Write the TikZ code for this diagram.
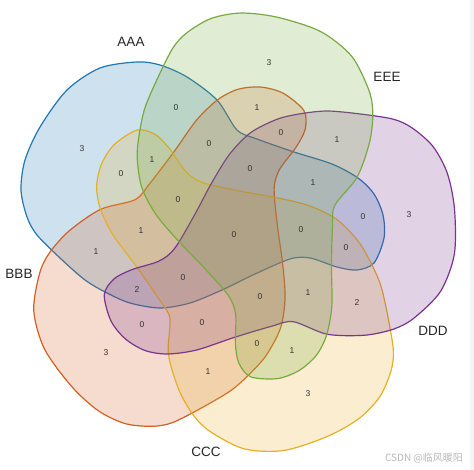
\documentclass[tikz,border=0pt]{standalone}
\usepackage{fontspec}
\setmainfont{Liberation Sans}
\newfontfamily\cjk{Noto Sans CJK SC}

\definecolor{setA}{RGB}{31,119,180}
\definecolor{setB}{RGB}{210,95,35}
\definecolor{setC}{RGB}{230,175,40}
\definecolor{setD}{RGB}{122,52,142}
\definecolor{setE}{RGB}{120,170,62}

\newcommand{\petal}{plot[smooth cycle] coordinates {(137,62) (100,68) (67,90) (40,127) (25,160) (21,190) (27,217) (37,235) (60,258) (85,280) (107,293) (130,303) (160,308) (190,303) (222,290) (255,274) (290,259) (310,258) (337,267) (357,270) (374,263) (384,238) (383,215) (374,194) (358,178) (332,164) (294,152) (257,139) (237,130) (217,100) (187,77) (160,65)}}

\begin{document}
\begin{tikzpicture}[x=1pt,y=-1pt,
vset/.style={line width=1.2pt,fill opacity=0.22},
setname/.style={font=\fontsize{13.5}{16}\selectfont,text=black!85},
regnum/.style={font=\fontsize{8.5}{10}\selectfont,text=black!80}]

\useasboundingbox (0,0) rectangle (474,470);
\coordinate (c) at (234,235);

\draw[vset,draw=setA,fill=setA] \petal;
\draw[vset,draw=setB,fill=setB,rotate around={72:(c)}] \petal;
\draw[vset,draw=setC,fill=setC,rotate around={144:(c)}] \petal;
\draw[vset,draw=setD,fill=setD,rotate around={-144:(c)}] \petal;
\draw[vset,draw=setE,fill=setE,rotate around={-72:(c)}] \petal;

\node[setname] (aaa) at (131,42) {AAA};
\node[setname] (eee) at (387,77) {EEE};
\node[setname] (ddd) at (433,331) {DDD};
\node[setname] (ccc) at (206,452) {CCC};
\node[setname] (bbb) at (19,274) {BBB};

\foreach \x/\y/\v [count=\i] in {82/149/3, 176/108/0, 209/144/0, 152/160/1, 121/174/0, 178/200/0, 141/231/1,
  269/63/3, 257/108/1, 281/133/0, 337/140/1, 250/169/0, 313/183/1, 363/217/0, 409/215/3, 301/230/0,
  96/252/1, 183/278/0, 137/290/2, 142/325/0, 202/323/0, 106/353/3, 208/372/1,
  346/248/0, 260/297/0, 308/293/1, 357/303/2, 257/344/0, 292/351/1, 308/394/3, 234/235/0}
  \node[regnum] (n\i) at (\x,\y) {\v};

\fill[black!4] (470,0) rectangle (474,470);
\node[font=\cjk\fontsize{10}{12}\selectfont,text=black!28] (mark) at (424,458) {CSDN @临风暖阳};

\end{tikzpicture}
\end{document}
